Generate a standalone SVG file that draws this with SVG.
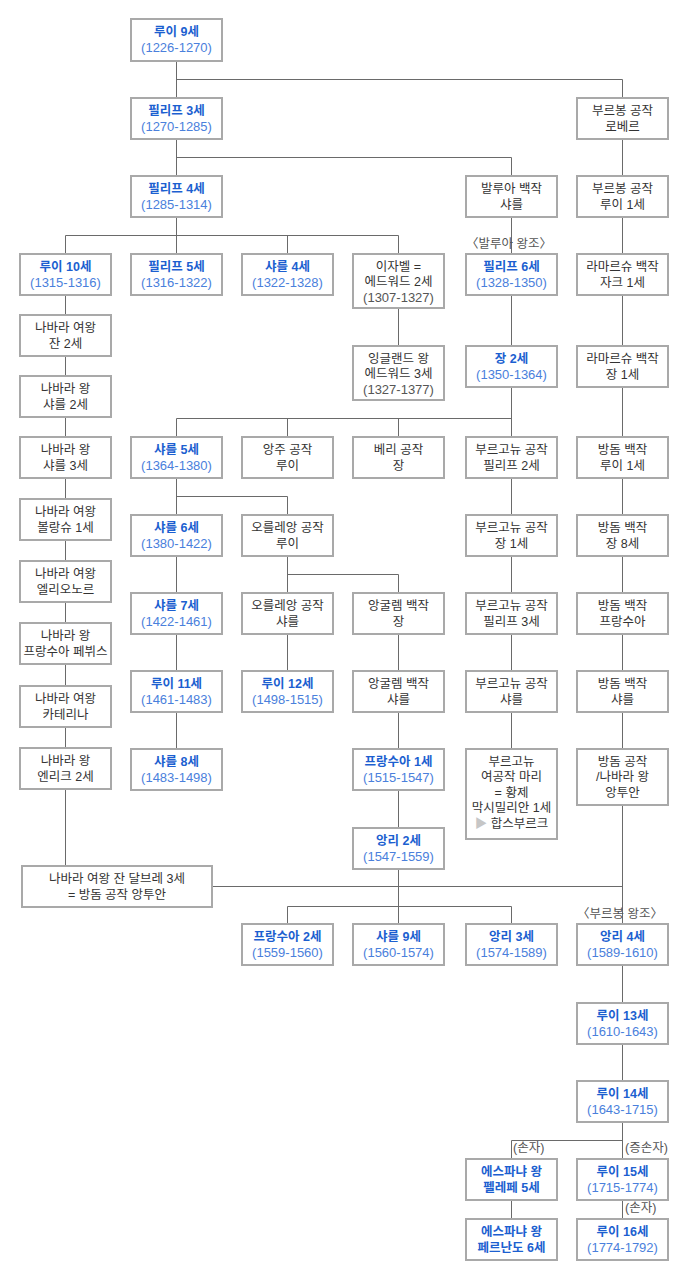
<svg xmlns="http://www.w3.org/2000/svg" width="688" height="1280" viewBox="0 0 688 1280">
<style>
.bx{fill:#fff;stroke:#a9a9a9;stroke-width:2}
.ln{stroke:#6a6a6a;stroke-width:1;fill:none}
text{font-family:"Liberation Sans","Noto Sans CJK KR",sans-serif;text-anchor:middle}
.n{font-size:12.5px;font-weight:bold;fill:#1c5fd0}
.d{font-size:13px;font-weight:normal;fill:#4a80dc}
.g{font-size:12.5px;fill:#333}
.gd{font-size:13px;font-weight:normal;fill:#555}
.lb{font-size:12.5px;fill:#555;text-anchor:start}
.tri{fill:#c6c6c6}
</style>
<rect width="688" height="1280" fill="#fff"/>
<g id="connectors">
<path class="ln" d="M176.5 61V98M176.5 79.5H622.5V98M176.5 139V176M176.5 157.5H511.5V176"/>
<path class="ln" d="M622.5 139V176M622.5 217V254M622.5 295V346M622.5 387V437M622.5 478V515M622.5 556V593M622.5 634V671M622.5 712V749M622.5 805V924M622.5 965V1003M622.5 1044V1081M622.5 1122V1159M622.5 1200V1219"/>
<path class="ln" d="M511.5 217V254M511.5 295V346M511.5 387V437M511.5 478V515M511.5 556V593M511.5 634V671M511.5 712V749"/>
<path class="ln" d="M176.5 217V254M65.5 254V235.5H398.5V254M287.5 235.5V254"/>
<path class="ln" d="M65.5 295V315M65.5 356V376M65.5 417V437M65.5 478V499M65.5 540V561M65.5 602V623M65.5 664V686M65.5 727V748M65.5 789V866"/>
<path class="ln" d="M398.5 308V346"/>
<path class="ln" d="M176.5 437V418.5H511.5M287.5 418.5V437M398.5 418.5V437"/>
<path class="ln" d="M176.5 478V515M176.5 496.5H287.5V515M176.5 556V593M176.5 634V671M176.5 712V749"/>
<path class="ln" d="M287.5 556V593M287.5 574.5H398.5V593M287.5 634V671"/>
<path class="ln" d="M398.5 634V671M398.5 712V749M398.5 790V828M398.5 869V924M287.5 924V906.5H511.5V924"/>
<path class="ln" d="M212 886.5H622.5"/>
<path class="ln" d="M511.5 1159V1140.5H622.5M511.5 1200V1219"/>
</g>
<g id="labels">
<text class="lb" x="466" y="248">〈발루아 왕조〉</text>
<text class="lb" x="577" y="918">〈부르봉 왕조〉</text>
<text class="lb" x="513" y="1152">(손자)</text>
<text class="lb" x="625" y="1152">(증손자)</text>
<text class="lb" x="625" y="1212">(손자)</text>
</g>
<g id="louis9"><rect class="bx" x="131" y="19" width="91" height="42"/><text class="n" x="176.5" y="36">루이 9세<tspan class="d" x="176.5" dy="16">(1226-1270)</tspan></text></g>
<g id="philippe3"><rect class="bx" x="131" y="98" width="91" height="41"/><text class="n" x="176.5" y="114.5">필리프 3세<tspan class="d" x="176.5" dy="16">(1270-1285)</tspan></text></g>
<g id="bourbon-robert"><rect class="bx" x="577" y="98" width="91" height="41"/><text class="g" x="622.5" y="114.5">부르봉 공작<tspan x="622.5" dy="16">로베르</tspan></text></g>
<g id="philippe4"><rect class="bx" x="131" y="176" width="91" height="41"/><text class="n" x="176.5" y="192.5">필리프 4세<tspan class="d" x="176.5" dy="16">(1285-1314)</tspan></text></g>
<g id="valois-charles"><rect class="bx" x="466" y="176" width="91" height="41"/><text class="g" x="511.5" y="192.5">발루아 백작<tspan x="511.5" dy="16">샤를</tspan></text></g>
<g id="bourbon-louis1"><rect class="bx" x="577" y="176" width="91" height="41"/><text class="g" x="622.5" y="192.5">부르봉 공작<tspan x="622.5" dy="16">루이 1세</tspan></text></g>
<g id="louis10"><rect class="bx" x="20" y="254" width="91" height="41"/><text class="n" x="65.5" y="270.5">루이 10세<tspan class="d" x="65.5" dy="16">(1315-1316)</tspan></text></g>
<g id="philippe5"><rect class="bx" x="131" y="254" width="91" height="41"/><text class="n" x="176.5" y="270.5">필리프 5세<tspan class="d" x="176.5" dy="16">(1316-1322)</tspan></text></g>
<g id="charles4"><rect class="bx" x="242" y="254" width="91" height="41"/><text class="n" x="287.5" y="270.5">샤를 4세<tspan class="d" x="287.5" dy="16">(1322-1328)</tspan></text></g>
<g id="isabelle"><rect class="bx" x="353" y="254" width="91" height="54"/><text class="g" x="398.5" y="270.5">이자벨 =<tspan x="398.5" dy="15.5">에드워드 2세</tspan><tspan class="gd" x="398.5" dy="16">(1307-1327)</tspan></text></g>
<g id="philippe6"><rect class="bx" x="466" y="254" width="91" height="41"/><text class="n" x="511.5" y="270.5">필리프 6세<tspan class="d" x="511.5" dy="16">(1328-1350)</tspan></text></g>
<g id="lamarche-jacques1"><rect class="bx" x="577" y="254" width="91" height="41"/><text class="g" x="622.5" y="270.5">라마르슈 백작<tspan x="622.5" dy="16">자크 1세</tspan></text></g>
<g id="navarre-jeanne2"><rect class="bx" x="20" y="315" width="91" height="41"/><text class="g" x="65.5" y="331.5">나바라 여왕<tspan x="65.5" dy="16">잔 2세</tspan></text></g>
<g id="edward3"><rect class="bx" x="353" y="346" width="91" height="54"/><text class="g" x="398.5" y="362.5">잉글랜드 왕<tspan x="398.5" dy="15.5">에드워드 3세</tspan><tspan class="gd" x="398.5" dy="16">(1327-1377)</tspan></text></g>
<g id="jean2"><rect class="bx" x="466" y="346" width="91" height="41"/><text class="n" x="511.5" y="362.5">장 2세<tspan class="d" x="511.5" dy="16">(1350-1364)</tspan></text></g>
<g id="lamarche-jean1"><rect class="bx" x="577" y="346" width="91" height="41"/><text class="g" x="622.5" y="362.5">라마르슈 백작<tspan x="622.5" dy="16">장 1세</tspan></text></g>
<g id="navarre-charles2"><rect class="bx" x="20" y="376" width="91" height="41"/><text class="g" x="65.5" y="392.5">나바라 왕<tspan x="65.5" dy="16">샤를 2세</tspan></text></g>
<g id="navarre-charles3"><rect class="bx" x="20" y="437" width="91" height="41"/><text class="g" x="65.5" y="453.5">나바라 왕<tspan x="65.5" dy="16">샤를 3세</tspan></text></g>
<g id="charles5"><rect class="bx" x="131" y="437" width="91" height="41"/><text class="n" x="176.5" y="453.5">샤를 5세<tspan class="d" x="176.5" dy="16">(1364-1380)</tspan></text></g>
<g id="anjou-louis"><rect class="bx" x="242" y="437" width="91" height="41"/><text class="g" x="287.5" y="453.5">앙주 공작<tspan x="287.5" dy="16">루이</tspan></text></g>
<g id="berry-jean"><rect class="bx" x="353" y="437" width="91" height="41"/><text class="g" x="398.5" y="453.5">베리 공작<tspan x="398.5" dy="16">장</tspan></text></g>
<g id="bourgogne-philippe2"><rect class="bx" x="466" y="437" width="91" height="41"/><text class="g" x="511.5" y="453.5">부르고뉴 공작<tspan x="511.5" dy="16">필리프 2세</tspan></text></g>
<g id="vendome-louis1"><rect class="bx" x="577" y="437" width="91" height="41"/><text class="g" x="622.5" y="453.5">방돔 백작<tspan x="622.5" dy="16">루이 1세</tspan></text></g>
<g id="navarre-blanche1"><rect class="bx" x="20" y="499" width="91" height="41"/><text class="g" x="65.5" y="515.5">나바라 여왕<tspan x="65.5" dy="16">볼랑슈 1세</tspan></text></g>
<g id="charles6"><rect class="bx" x="131" y="515" width="91" height="41"/><text class="n" x="176.5" y="531.5">샤를 6세<tspan class="d" x="176.5" dy="16">(1380-1422)</tspan></text></g>
<g id="orleans-louis"><rect class="bx" x="242" y="515" width="91" height="41"/><text class="g" x="287.5" y="531.5">오를레앙 공작<tspan x="287.5" dy="16">루이</tspan></text></g>
<g id="bourgogne-jean1"><rect class="bx" x="466" y="515" width="91" height="41"/><text class="g" x="511.5" y="531.5">부르고뉴 공작<tspan x="511.5" dy="16">장 1세</tspan></text></g>
<g id="vendome-jean8"><rect class="bx" x="577" y="515" width="91" height="41"/><text class="g" x="622.5" y="531.5">방돔 백작<tspan x="622.5" dy="16">장 8세</tspan></text></g>
<g id="navarre-eleonore"><rect class="bx" x="20" y="561" width="91" height="41"/><text class="g" x="65.5" y="577.5">나바라 여왕<tspan x="65.5" dy="16">엘리오노르</tspan></text></g>
<g id="charles7"><rect class="bx" x="131" y="593" width="91" height="41"/><text class="n" x="176.5" y="609.5">샤를 7세<tspan class="d" x="176.5" dy="16">(1422-1461)</tspan></text></g>
<g id="orleans-charles"><rect class="bx" x="242" y="593" width="91" height="41"/><text class="g" x="287.5" y="609.5">오를레앙 공작<tspan x="287.5" dy="16">샤를</tspan></text></g>
<g id="angouleme-jean"><rect class="bx" x="353" y="593" width="91" height="41"/><text class="g" x="398.5" y="609.5">앙굴렘 백작<tspan x="398.5" dy="16">장</tspan></text></g>
<g id="bourgogne-philippe3"><rect class="bx" x="466" y="593" width="91" height="41"/><text class="g" x="511.5" y="609.5">부르고뉴 공작<tspan x="511.5" dy="16">필리프 3세</tspan></text></g>
<g id="vendome-francois"><rect class="bx" x="577" y="593" width="91" height="41"/><text class="g" x="622.5" y="609.5">방돔 백작<tspan x="622.5" dy="16">프랑수아</tspan></text></g>
<g id="navarre-francois-phoebus"><rect class="bx" x="20" y="623" width="91" height="41"/><text class="g" x="65.5" y="639.5">나바라 왕<tspan x="65.5" dy="16">프랑수아 페뷔스</tspan></text></g>
<g id="louis11"><rect class="bx" x="131" y="671" width="91" height="41"/><text class="n" x="176.5" y="687.5">루이 11세<tspan class="d" x="176.5" dy="16">(1461-1483)</tspan></text></g>
<g id="louis12"><rect class="bx" x="242" y="671" width="91" height="41"/><text class="n" x="287.5" y="687.5">루이 12세<tspan class="d" x="287.5" dy="16">(1498-1515)</tspan></text></g>
<g id="angouleme-charles"><rect class="bx" x="353" y="671" width="91" height="41"/><text class="g" x="398.5" y="687.5">앙굴렘 백작<tspan x="398.5" dy="16">샤를</tspan></text></g>
<g id="bourgogne-charles"><rect class="bx" x="466" y="671" width="91" height="41"/><text class="g" x="511.5" y="687.5">부르고뉴 공작<tspan x="511.5" dy="16">샤를</tspan></text></g>
<g id="vendome-charles"><rect class="bx" x="577" y="671" width="91" height="41"/><text class="g" x="622.5" y="687.5">방돔 백작<tspan x="622.5" dy="16">샤를</tspan></text></g>
<g id="navarre-catalina"><rect class="bx" x="20" y="686" width="91" height="41"/><text class="g" x="65.5" y="702.5">나바라 여왕<tspan x="65.5" dy="16">카테리나</tspan></text></g>
<g id="navarre-enrique2"><rect class="bx" x="20" y="748" width="91" height="41"/><text class="g" x="65.5" y="764.5">나바라 왕<tspan x="65.5" dy="16">엔리크 2세</tspan></text></g>
<g id="charles8"><rect class="bx" x="131" y="749" width="91" height="41"/><text class="n" x="176.5" y="765.5">샤를 8세<tspan class="d" x="176.5" dy="16">(1483-1498)</tspan></text></g>
<g id="francois1"><rect class="bx" x="353" y="749" width="91" height="41"/><text class="n" x="398.5" y="765.5">프랑수아 1세<tspan class="d" x="398.5" dy="16">(1515-1547)</tspan></text></g>
<g id="bourgogne-marie"><rect class="bx" x="466" y="749" width="91" height="90"/><text class="g" x="511.5" y="765.5">부르고뉴<tspan x="511.5" dy="15.5">여공작 마리</tspan><tspan x="511.5" dy="15.5">= 황제</tspan><tspan x="511.5" dy="15.5">막시밀리안 1세</tspan><tspan x="511.5" dy="16"><tspan class="tri">▶</tspan> 합스부르크</tspan></text></g>
<g id="vendome-antoine"><rect class="bx" x="577" y="749" width="91" height="56"/><text class="g" x="622.5" y="765.5">방돔 공작<tspan x="622.5" dy="15.5">/나바라 왕</tspan><tspan x="622.5" dy="15.5">앙투안</tspan></text></g>
<g id="henri2"><rect class="bx" x="353" y="828" width="91" height="41"/><text class="n" x="398.5" y="844.5">앙리 2세<tspan class="d" x="398.5" dy="16">(1547-1559)</tspan></text></g>
<g id="jeanne-albret"><rect class="bx" x="22" y="866" width="190" height="41"/><text class="g" x="117" y="882.5">나바라 여왕 잔 달브레 3세<tspan x="117" dy="16">= 방돔 공작 앙투안</tspan></text></g>
<g id="francois2"><rect class="bx" x="242" y="924" width="91" height="41"/><text class="n" x="287.5" y="940.5">프랑수아 2세<tspan class="d" x="287.5" dy="16">(1559-1560)</tspan></text></g>
<g id="charles9"><rect class="bx" x="353" y="924" width="91" height="41"/><text class="n" x="398.5" y="940.5">샤를 9세<tspan class="d" x="398.5" dy="16">(1560-1574)</tspan></text></g>
<g id="henri3"><rect class="bx" x="466" y="924" width="91" height="41"/><text class="n" x="511.5" y="940.5">앙리 3세<tspan class="d" x="511.5" dy="16">(1574-1589)</tspan></text></g>
<g id="henri4"><rect class="bx" x="577" y="924" width="91" height="41"/><text class="n" x="622.5" y="940.5">앙리 4세<tspan class="d" x="622.5" dy="16">(1589-1610)</tspan></text></g>
<g id="louis13"><rect class="bx" x="577" y="1003" width="91" height="41"/><text class="n" x="622.5" y="1019.5">루이 13세<tspan class="d" x="622.5" dy="16">(1610-1643)</tspan></text></g>
<g id="louis14"><rect class="bx" x="577" y="1081" width="91" height="41"/><text class="n" x="622.5" y="1097.5">루이 14세<tspan class="d" x="622.5" dy="16">(1643-1715)</tspan></text></g>
<g id="felipe5"><rect class="bx" x="466" y="1159" width="91" height="41"/><text class="n" x="511.5" y="1175.5">에스파냐 왕<tspan x="511.5" dy="16">펠레페 5세</tspan></text></g>
<g id="louis15"><rect class="bx" x="577" y="1159" width="91" height="41"/><text class="n" x="622.5" y="1175.5">루이 15세<tspan class="d" x="622.5" dy="16">(1715-1774)</tspan></text></g>
<g id="fernando6"><rect class="bx" x="466" y="1219" width="91" height="41"/><text class="n" x="511.5" y="1235.5">에스파냐 왕<tspan x="511.5" dy="16">페르난도 6세</tspan></text></g>
<g id="louis16"><rect class="bx" x="577" y="1219" width="91" height="41"/><text class="n" x="622.5" y="1235.5">루이 16세<tspan class="d" x="622.5" dy="16">(1774-1792)</tspan></text></g>
</svg>
